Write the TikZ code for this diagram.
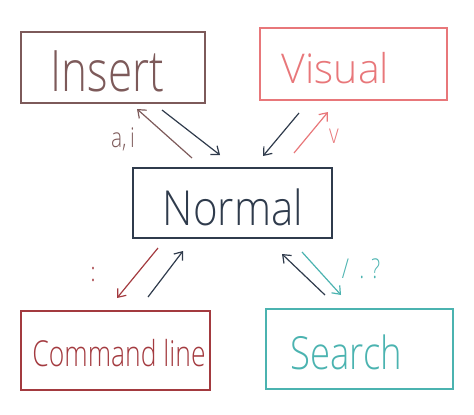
\documentclass[tikz,border=0pt]{standalone}
\usepackage{fontspec}
\setmainfont{Open Sans}[UprightFont=* Light]
\usetikzlibrary{arrows.meta}
\definecolor{cins}{HTML}{7D5A5A}
\definecolor{cvis}{HTML}{E8777A}
\definecolor{cnor}{HTML}{2F3B4C}
\definecolor{ccmd}{HTML}{A33A3F}
\definecolor{csea}{HTML}{4BB3B0}
\tikzset{
  modebox/.style={draw, line width=1.3pt, inner sep=0pt},
  conn/.style={line width=1.2pt, -{Straight Barb[length=7pt,width=11pt,line width=1.2pt]}},
  lbl/.style={inner sep=0pt, font=\fontsize{21}{23}\selectfont},
}
\newcommand{\tallt}[3]{\scalebox{1}[#2]{\fontsize{#1}{#1}\selectfont #3}}
\begin{document}
\begin{tikzpicture}[x=1pt,y=-1pt]
\useasboundingbox (0,0) rectangle (474,415);
% boxes
\node[modebox, cins, minimum width=184pt, minimum height=71pt] (ins) at (113,67.5) {};
\node[modebox, cvis, minimum width=187pt, minimum height=72pt] (vis) at (353.5,64) {};
\node[modebox, cnor, minimum width=199pt, minimum height=70pt] (nor) at (232.5,203) {};
\node[modebox, ccmd, minimum width=189pt, minimum height=79pt] (cmd) at (115.5,350.5) {};
\node[modebox, csea, minimum width=187pt, minimum height=80pt] (sea) at (359.5,349) {};
% texts
\node[cins, inner sep=0pt] (tins) at (107.5,71) {\tallt{44}{1.3}{Insert}};
\node[cvis, inner sep=0pt] (tvis) at (335.5,68) {\tallt{41}{1.0}{Visual}};
\node[cnor, inner sep=0pt] (tnor) at (233,207) {\tallt{42}{1.15}{Normal}};
\node[ccmd, inner sep=0pt] (tcmd) at (119,353) {\tallt{26.5}{1.35}{Command line}};
\node[csea, inner sep=0pt] (tsea) at (346.5,352) {\tallt{36.5}{1.25}{Search}};
% connector end points
\coordinate (i1) at (192,158); \coordinate (i2) at (137,109);
\coordinate (i3) at (162,110); \coordinate (i4) at (220,155);
\coordinate (v1) at (299,113); \coordinate (v2) at (263,156);
\coordinate (v3) at (294,153); \coordinate (v4) at (328,112);
\coordinate (c1) at (158,248); \coordinate (c2) at (117,298);
\coordinate (c3) at (148,297); \coordinate (c4) at (183,251);
\coordinate (s1) at (325,295); \coordinate (s2) at (282,254);
\coordinate (s3) at (302,252); \coordinate (s4) at (341,295);
% connectors
\draw[conn, cins] (i1) -- (i2);
\draw[conn, cnor] (i3) -- (i4);
\draw[conn, cnor] (v1) -- (v2);
\draw[conn, cvis] (v3) -- (v4);
\draw[conn, ccmd] (c1) -- (c2);
\draw[conn, cnor] (c3) -- (c4);
\draw[conn, cnor] (s1) -- (s2);
\draw[conn, csea] (s3) -- (s4);
% labels
\node[lbl, cins] (lai) at (123,139) {\scalebox{1}[1.3]{a,\,i}};
\node[lbl, cvis] (lv) at (334,136) {\scalebox{1}[1.3]{v}};
\node[lbl, ccmd] (lc) at (93,275) {\scalebox{1}[1.3]{:}};
\node[lbl, csea] (ls) at (361,269) {\scalebox{1}[1.3]{/\,\,\,.\,\,?}};
\end{tikzpicture}
\end{document}
